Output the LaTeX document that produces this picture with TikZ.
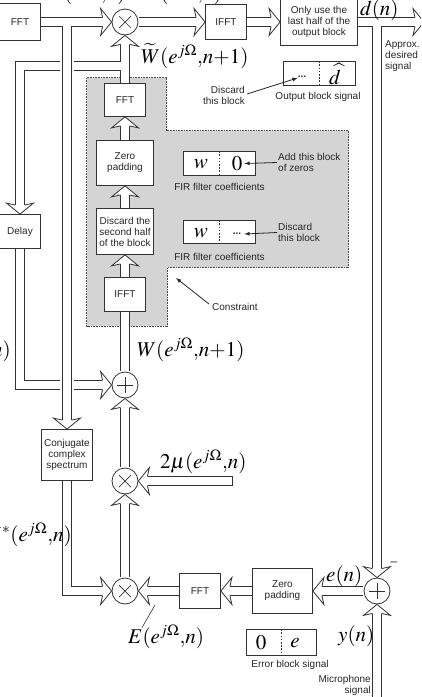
\documentclass[tikz,border=0pt]{standalone}
\usepackage{mathptmx}
\usepackage[no-math]{fontspec}
\setmainfont{Liberation Sans}
\usepackage{tikz}
\usetikzlibrary{scopes}
\tikzset{
    blk/.style={draw=black!80, line width=.8pt, fill=white, inner sep=0pt, align=center,
        text=black!85, font=\fontsize{10}{11}\selectfont},
    seg/.style={draw=black!80, line width=.8pt, fill=white, inner sep=0pt},
    dvd/.style={draw=black!80, line width=.7pt, dash pattern=on 1.6pt off 1.6pt},
    sumc/.style={circle, draw=black!80, line width=.8pt, fill=white, minimum size=26pt, inner sep=0pt},
    mulc/.style={sumc, path picture={\draw[line width=.7pt, black!80] (path picture bounding box.center)
        +(-6pt,-6pt) -- +(6pt,6pt) +(-6pt,6pt) -- +(6pt,-6pt);}},
    addc/.style={sumc, path picture={\draw[line width=.7pt, black!80] (path picture bounding box.center)
        +(-8pt,0pt) -- +(8pt,0pt) +(0pt,-8pt) -- +(0pt,8pt);}},
    pipe/.style={draw=black!80, line width=.8pt, double=white, double distance=8.2pt,
        shorten <=.4pt, shorten >=.4pt},
    bridge/.style={draw=white, line width=14pt},
    lbl/.style={inner sep=0pt, text=black!85, font=\fontsize{10}{11}\selectfont},
    sig/.style={inner sep=0pt, font=\fontsize{21}{24}\selectfont},
    note/.style={draw=black!85, line width=.8pt, -latex},
    hd/.pic={\filldraw[draw=black!80, fill=white, line width=.8pt, line join=miter]
        (-9,4.5) -- (-11,13.5) -- (0,0) -- (-11,-13.5) -- (-9,-4.5);}
}

\begin{document}
\begin{tikzpicture}[x=1pt, y=-1pt]
    \useasboundingbox (0,0) rectangle (421,697);
    \clip (0,0) rectangle (421,697);

    % constraint region
    \filldraw[fill=black!17, draw=black!70, densely dotted, line width=.6pt]
        (86.5,77.5) -- (166.5,77.5) -- (166.5,130.5) -- (348.5,130.5) -- (348.5,267.5) -- (167.5,267.5)
        -- (167.5,326.5) -- (86.5,326.5) -- cycle;

    % top row
    \node[blk, minimum width=41pt, minimum height=37pt] (fftA) at (20,22) {FFT};
    \node[mulc] (mulA) at (125,22) {};
    \node[blk, minimum width=41pt, minimum height=35pt] (ifftA) at (226,22) {IFFT};
    \node[blk, minimum width=77pt, minimum height=47pt] (useA) at (319,22)
        {Only use the\\last half of the\\output block};
    \coordinate (dout) at (424,22);

    % constraint chain
    \node[blk, minimum width=41pt, minimum height=33pt] (fftB) at (125,100) {FFT};
    \node[blk, minimum width=57pt, minimum height=45pt] (zpadA) at (125,163) {Zero\\padding};
    \node[blk, minimum width=57pt, minimum height=46pt] (discA) at (125,231.5)
        {Discard the\\second half\\of the block};
    \node[blk, minimum width=41pt, minimum height=34pt] (ifftB) at (125,294.5) {IFFT};

    % left side
    \node[blk, minimum width=41pt, minimum height=34pt] (delayA) at (20,231.5) {Delay};
    \node[blk, minimum width=51pt, minimum height=51pt] (conjA) at (67,455)
        {Conjugate\\complex\\spectrum};

    % update path
    \node[addc] (addA) at (125,385) {};
    \node[mulc] (mulB) at (125,481) {};
    \node[mulc] (mulC) at (125,591) {};
    \coordinate (muin) at (232.5,481);

    % error path
    \node[blk, minimum width=41pt, minimum height=35pt] (fftC) at (200,591) {FFT};
    \node[blk, minimum width=60pt, minimum height=45pt] (zpadB) at (282.5,591) {Zero\\padding};
    \node[addc] (addB) at (377,591) {};
    \coordinate (mic) at (377,702);

    % pipes
    \draw[pipe] (fftB.north) -- ([yshift=-9pt]mulA.south)
        (125,66) -- (20,66) -- ([yshift=9pt]delayA.north);
    \draw[pipe] (delayA.south) -- (20,385) -- ([xshift=-9pt]addA.west);
    \draw[bridge] (67,22) -- (conjA.north);
    \draw[pipe] (fftA.east) -- ([xshift=-9pt]mulA.west)
        (67,22) -- ([yshift=9pt]conjA.north);
    \draw[pipe] (mulA.east) -- ([xshift=-9pt]ifftA.west);
    \draw[pipe] (ifftA.east) -- ([xshift=-9pt]useA.west);
    \draw[pipe] (useA.east) -- ([xshift=-9pt]dout)
        (377,22) -- ([yshift=9pt]addB.north);
    \draw[pipe] (zpadA.north) -- ([yshift=-9pt]fftB.south);
    \draw[pipe] (discA.north) -- ([yshift=-9pt]zpadA.south);
    \draw[pipe] (ifftB.north) -- ([yshift=-9pt]discA.south);
    \draw[pipe] (ifftB.south) -- (addA.north);
    \draw[pipe] (mulB.north) -- ([yshift=-9pt]addA.south);
    \draw[pipe] (mulC.north) -- ([yshift=-9pt]mulB.south);
    \draw[pipe] (muin) -- ([xshift=9pt]mulB.east);
    \draw[draw=black!80, line width=.8pt] ([yshift=4.9pt]muin) -- ([yshift=-4.9pt]muin);
    \draw[pipe] (conjA.south) -- (67,591) -- ([xshift=-9pt]mulC.west);
    \draw[pipe] (fftC.west) -- ([xshift=9pt]mulC.east);
    \draw[pipe] (zpadB.west) -- ([xshift=9pt]fftC.east);
    \draw[pipe] (addB.west) -- ([xshift=9pt]zpadB.east);
    \draw[pipe] (mic) -- ([yshift=-9pt]addB.south);

    % heads
    \pic at (mulA.west) {hd};
    \pic at (ifftA.west) {hd};
    \pic at (useA.west) {hd};
    \pic at (dout) {hd};
    \pic at (addA.west) {hd};
    \pic at (mulC.west) {hd};
    \pic[rotate=90] at (mulA.south) {hd};
    \pic[rotate=90] at (fftB.south) {hd};
    \pic[rotate=90] at (zpadA.south) {hd};
    \pic[rotate=90] at (discA.south) {hd};
    \pic[rotate=90] at (addA.south) {hd};
    \pic[rotate=90] at (mulB.south) {hd};
    \pic[rotate=90] at (addB.south) {hd};
    \pic[rotate=-90] at (delayA.north) {hd};
    \pic[rotate=-90] at (conjA.north) {hd};
    \pic[rotate=-90] at (addB.north) {hd};
    \pic[rotate=180] at (mulB.east) {hd};
    \pic[rotate=180] at (mulC.east) {hd};
    \pic[rotate=180] at (fftC.east) {hd};
    \pic[rotate=180] at (zpadB.east) {hd};

    % block signals
    \node[seg, minimum width=72pt, minimum height=24pt] (outblk) at (319.5,73.5) {};
    \draw[dvd] (outblk.north) -- (outblk.south);
    \node[lbl, font=\bfseries\fontsize{10}{11}\selectfont] (dotsA) at (302,77) {...};
    \node[sig] (dhat) at (335,74) {$\widehat{d}$};
    \node[lbl] (outT) at (318,97) {Output block signal};
    \node[lbl, align=right, anchor=east] (dscA) at (245,95) {Discard\\this block};
    \draw[note] ([xshift=2pt,yshift=1pt]dscA.east) -- (dotsA.south west);

    \node[seg, minimum width=72pt, minimum height=24pt] (firA) at (219.5,163.5) {};
    \draw[dvd] (firA.north) -- (firA.south);
    \node[sig] (wA) at (201,164) {$w$};
    \node[sig] (zeroA) at (237,163.5) {$0$};
    \node[lbl, align=left, anchor=west] (addT) at (278,162.5) {Add this block\\of zeros};
    \draw[note] ([xshift=-1pt]addT.west) -- ([xshift=2pt]zeroA.east);
    \node[lbl] (firT) at (219.5,187) {FIR filter coefficients};

    \node[seg, minimum width=72pt, minimum height=23pt] (firB) at (219.5,232) {};
    \draw[dvd] (firB.north) -- (firB.south);
    \node[sig] (wB) at (201,233) {$w$};
    \node[lbl, font=\bfseries\fontsize{10}{11}\selectfont] (dotsB) at (237,234) {...};
    \node[lbl, align=left, anchor=west] (dscB) at (278,232.5) {Discard\\this block};
    \draw[note] ([xshift=-1pt]dscB.west) -- ([xshift=3pt]dotsB.east);
    \node[lbl] (firT2) at (219.5,257) {FIR filter coefficients};

    \node[lbl, anchor=west] (conT) at (212,307) {Constraint};
    \coordinate (cnstr) at (176,278);
    \draw[note] ([xshift=-3pt,yshift=3pt]conT.west) -- (cnstr);

    \node[seg, minimum width=70pt, minimum height=26pt] (errblk) at (281.5,642.5) {};
    \draw[dvd] (errblk.north) -- (errblk.south);
    \node[sig] (zeroB) at (261,643) {$0$};
    \node[sig] (eB) at (295,643.5) {$e$};
    \node[lbl] (errT) at (290,665) {Error block signal};

    % signal labels
    \node[sig, anchor=base west] (xin) at (49,-1) {$X(e^{j\Omega}{,}n)$};
    \node[sig, anchor=base west] (yout) at (147,-1) {$Y(e^{j\Omega}{,}n)$};
    \node[sig, anchor=base west] (dn) at (360,15) {$d(n)$};
    \node[lbl, align=left, anchor=north west] (apx) at (385,40) {Approx.\\desired\\signal};
    \node[sig, anchor=base west] (wtl) at (141,63) {$\widetilde{W}(e^{j\Omega}{,}n{+}1)$};
    \node[sig, anchor=base west] (wl) at (137,356) {$W(e^{j\Omega}{,}n{+}1)$};
    \node[sig, anchor=base east] (wd) at (11,356) {$W(e^{j\Omega}{,}n)$};
    \node[sig, anchor=base west] (mu) at (160,468) {$2\mu(e^{j\Omega}{,}n)$};
    \node[sig, anchor=base east] (xc) at (72,541) {$X^{*}(e^{j\Omega}{,}n)$};
    \node[sig, anchor=base west] (El) at (128,643) {$E(e^{j\Omega}{,}n)$};
    \coordinate (Etap) at (155,605);
    \draw[draw=black!80, line width=.6pt] ([xshift=14pt,yshift=-3pt]El.north west) -- (Etap);
    \node[sig, anchor=base west] (en) at (326,581.5) {$e(n)$};
    \node[lbl, font=\fontsize{12}{12}\selectfont] (minus) at (394,564) {–};
    \node[sig, anchor=base west] (yn) at (338,641) {$y(n)$};
    \node[lbl, align=right, anchor=north east] (micT) at (371,675) {Microphone\\signal};
\end{tikzpicture}
\end{document}
